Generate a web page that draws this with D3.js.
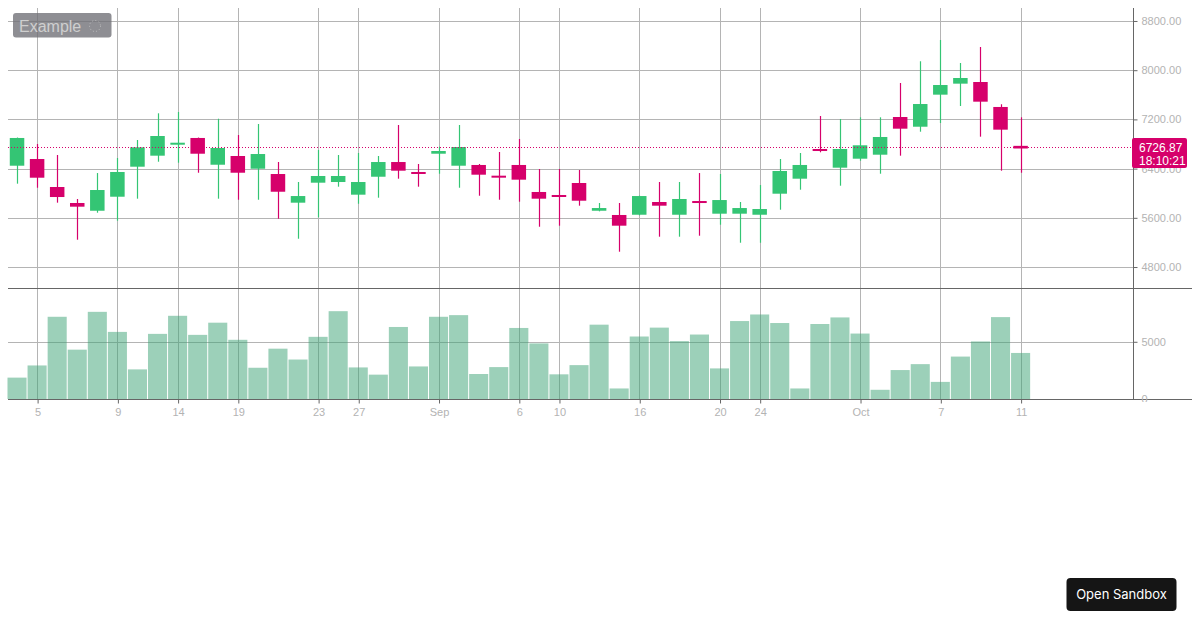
<!DOCTYPE html>
<html>
<head>
<meta charset="utf-8">
<script src="https://cdn.jsdelivr.net/npm/d3@7/dist/d3.min.js"></script>
<style>
  html, body { margin: 0; padding: 0; background: #fff; }
  svg { display: block; font-family: "Liberation Sans", Arial, Helvetica, sans-serif; }
</style>
</head>
<body>
<svg id="chart" width="1200" height="630"></svg>
<script>
// ---- data ----
const openP  = [6447,6556,6101,5841,5715,5943,6431,6610,6789,6898,6463,6605,6398,6312,5846,6171,6182,5976,6268,6507,6345,6642,6447,6459,6285,6459,6020,5971,6166,5715,5646,5650,5857,5650,5873,5667,5667,5650,5992,6236,6719,6415,6561,6626,7239,7081,7602,7781,7808,7402,6770];
const highP  = [6905,6800,6621,5906,6328,6572,6865,7299,7320,6905,7211,6946,7125,6507,6182,6702,6621,6654,6605,7109,6475,6756,7109,6475,6670,6881,6394,6394,6377,5841,5841,5960,6182,6182,6328,6312,5857,6133,6556,6654,7255,7207,7234,7234,7792,8145,8491,8117,8377,7446,7234];
const lowP   = [6155,6089,5846,5244,5683,5553,5911,6512,6496,6333,5911,5894,5894,5585,5260,5608,6106,5829,5927,6236,6106,6317,6089,5959,5894,5862,5455,5472,5797,5705,5049,5640,5293,5293,5309,5488,5195,5195,5732,6057,6665,6122,6528,6317,6610,7000,7141,7418,6919,6366,6333];
const closeP = [6898,6252,5938,5781,6052,6345,6746,6930,6821,6642,6735,6333,6637,6024,5954,6280,6280,6182,6507,6366,6329,6686,6751,6301,6268,6220,5911,5943,5878,5759,5472,5954,5797,5906,5862,5889,5759,5743,6361,6459,6686,6719,6779,6914,7049,7450,7759,7873,7488,7033,6726.87];
const volume = [1868,2931,7185,4311,7616,5863,2587,5691,7271,5604,6668,5173,2730,4397,3449,5432,7674,2759,2127,6294,2845,7185,7329,2184,2788,6208,4857,2156,2960,6495,920,5461,6237,5058,5633,2673,6811,7386,6639,920,6553,7128,5719,805,2529,3046,1494,3707,5030,7156,4024];
const dateTickIndex  = [1,5,8,11,15,17,21,25,27,31,35,37,42,46,50];
const dateTickLabels = ["5","9","14","19","23","27","Sep","6","10","16","20","24","Oct","7","11"];
const priceTicks  = [4800,5600,6400,7200,8000,8800];
const volumeTicks = [0,5000];
const lastPrice = 6726.87;
const lastTime  = "18:10:21";
const badgeText = "Example";
const buttonText = "Open Sandbox";

// ---- layout ----
const L = 8, R = 1133, PT = 8, PB = 288, VT = 288, VB = 399, EDGE = 1192;
const UP = "#34c574", DOWN = "#d6006b", GRID = "#b4b4b4", AXIS = "#666", TXT = "#b3b3b3";

const svg = d3.select("#chart");
const x = d3.scaleLinear().domain([-0.45, 55.6]).range([L, R]);
const step = x(1) - x(0);
const yP = d3.scaleLinear().domain([4459, 9011]).range([PB, PT]);
const yV = d3.scaleLinear().domain([0, 9700]).range([VB, VT]);

const idx = d3.range(closeP.length);

// vertical gridlines (across both panes)
svg.append("g").selectAll("line").data(dateTickIndex).join("line")
  .attr("x1", d => Math.round(x(d)) + 0.5).attr("x2", d => Math.round(x(d)) + 0.5)
  .attr("y1", PT).attr("y2", VB)
  .attr("stroke", GRID).attr("stroke-width", 1);

// horizontal price gridlines
svg.append("g").selectAll("line").data(priceTicks).join("line")
  .attr("x1", L).attr("x2", R)
  .attr("y1", d => Math.round(yP(d)) + 0.5).attr("y2", d => Math.round(yP(d)) + 0.5)
  .attr("stroke", GRID).attr("stroke-width", 1);

// volume gridline
svg.append("g").selectAll("line").data(volumeTicks.filter(v => v > 0)).join("line")
  .attr("x1", L).attr("x2", R)
  .attr("y1", d => Math.round(yV(d)) + 0.5).attr("y2", d => Math.round(yV(d)) + 0.5)
  .attr("stroke", GRID).attr("stroke-width", 1);

// volume bars
svg.append("g").selectAll("rect").data(idx).join("rect")
  .attr("x", i => x(i) - step / 2 + 0.5)
  .attr("width", step - 1)
  .attr("y", i => yV(volume[i]))
  .attr("height", i => yV(0) - yV(volume[i]))
  .attr("fill", "#3aa273").attr("fill-opacity", 0.5);

// wicks
svg.append("g").selectAll("line").data(idx).join("line")
  .attr("x1", i => Math.round(x(i)) + 0.5).attr("x2", i => Math.round(x(i)) + 0.5)
  .attr("y1", i => yP(highP[i])).attr("y2", i => yP(lowP[i]))
  .attr("stroke", i => closeP[i] >= openP[i] ? UP : DOWN)
  .attr("stroke-width", 1.2);

// bodies
const bw = 14.5;
svg.append("g").selectAll("rect").data(idx).join("rect")
  .attr("x", i => x(i) - bw / 2)
  .attr("width", bw)
  .attr("y", i => yP(Math.max(openP[i], closeP[i])))
  .attr("height", i => Math.max(2, Math.abs(yP(openP[i]) - yP(closeP[i]))))
  .attr("fill", i => closeP[i] >= openP[i] ? UP : DOWN);

// last price dotted line
const ly = Math.round(yP(lastPrice)) - 1.5;
svg.append("line")
  .attr("x1", L).attr("x2", R)
  .attr("y1", ly).attr("y2", ly)
  .attr("stroke", DOWN).attr("stroke-width", 1).attr("stroke-dasharray", "1,2");

// axes lines
svg.append("line").attr("x1", R + 0.5).attr("x2", R + 0.5).attr("y1", PT).attr("y2", VB + 1)
  .attr("stroke", AXIS).attr("stroke-width", 1);
svg.append("line").attr("x1", L).attr("x2", EDGE).attr("y1", PB + 0.5).attr("y2", PB + 0.5)
  .attr("stroke", AXIS).attr("stroke-width", 1);
svg.append("line").attr("x1", L).attr("x2", EDGE).attr("y1", VB + 0.5).attr("y2", VB + 0.5)
  .attr("stroke", AXIS).attr("stroke-width", 1);

// price axis (right)
const priceAxis = d3.axisRight(yP).tickValues(priceTicks).tickFormat(d3.format(".2f")).tickSize(4).tickPadding(4);
const pa = svg.append("g").attr("transform", `translate(${R + 0.5},0)`).call(priceAxis);
pa.select(".domain").remove();
pa.selectAll(".tick line").attr("stroke", AXIS);
pa.selectAll(".tick text").attr("fill", TXT).style("font-size", "11px")
  .style("font-family", "'Liberation Sans', Arial, sans-serif");

// volume axis (right)
svg.append("clipPath").attr("id", "vclip").append("rect").attr("x", R).attr("y", VT).attr("width", 80).attr("height", VB - VT + 3);
const volAxis = d3.axisRight(yV).tickValues(volumeTicks).tickFormat(d3.format("d")).tickSize(4).tickPadding(4);
const va = svg.append("g").attr("clip-path", "url(#vclip)").append("g")
  .attr("transform", `translate(${R + 0.5},0)`).call(volAxis);
va.select(".domain").remove();
va.selectAll(".tick line").attr("stroke", AXIS);
va.selectAll(".tick text").attr("fill", TXT).style("font-size", "11px")
  .style("font-family", "'Liberation Sans', Arial, sans-serif");

// date axis (bottom)
const dateAxis = d3.axisBottom(x).tickValues(dateTickIndex)
  .tickFormat((d, i) => dateTickLabels[i]).tickSize(4).tickPadding(5);
const da = svg.append("g").attr("transform", `translate(0.5,${VB + 0.5})`).call(dateAxis);
da.select(".domain").remove();
da.selectAll(".tick line").attr("stroke", AXIS);
da.selectAll(".tick text").attr("fill", TXT).style("font-size", "11px")
  .style("font-family", "'Liberation Sans', Arial, sans-serif");

// last price badge (drawn over the axis labels, as in the reference)
const by = Math.round(yP(lastPrice)) - 11;
svg.append("rect").attr("x", R - 1).attr("y", by).attr("width", 55).attr("height", 30)
  .attr("rx", 2).attr("fill", DOWN);
svg.append("text").attr("x", R + 6).attr("y", by + 13.5).attr("fill", "#fff")
  .style("font-size", "12px").text(d3.format(".2f")(lastPrice));
svg.append("text").attr("x", R + 6).attr("y", by + 26.5).attr("fill", "#fff")
  .style("font-size", "12px").text(lastTime);

// Example badge
svg.append("rect").attr("x", 13).attr("y", 13).attr("width", 98.5).attr("height", 24.5)
  .attr("rx", 3).attr("fill", "#6e6e75").attr("fill-opacity", 0.78);
svg.append("text").attr("x", 19).attr("y", 31.5).attr("fill", "#cfcfcf")
  .style("font-size", "16px").text(badgeText);
svg.append("circle").attr("cx", 95).attr("cy", 26).attr("r", 5.5)
  .attr("fill", "none").attr("stroke", "#c8c8c8").attr("stroke-width", 1)
  .attr("stroke-dasharray", "1,2.2").attr("stroke-opacity", 0.8);

// Open Sandbox button
svg.append("rect").attr("x", 1066.5).attr("y", 578).attr("width", 110).attr("height", 33)
  .attr("rx", 4).attr("fill", "#151515");
svg.append("text").attr("x", 1121.5).attr("y", 599).attr("text-anchor", "middle")
  .attr("fill", "#fff").style("font-size", "13px").style("font-family", "Inter, 'Noto Sans', sans-serif")
  .text(buttonText);
</script>
</body>
</html>
